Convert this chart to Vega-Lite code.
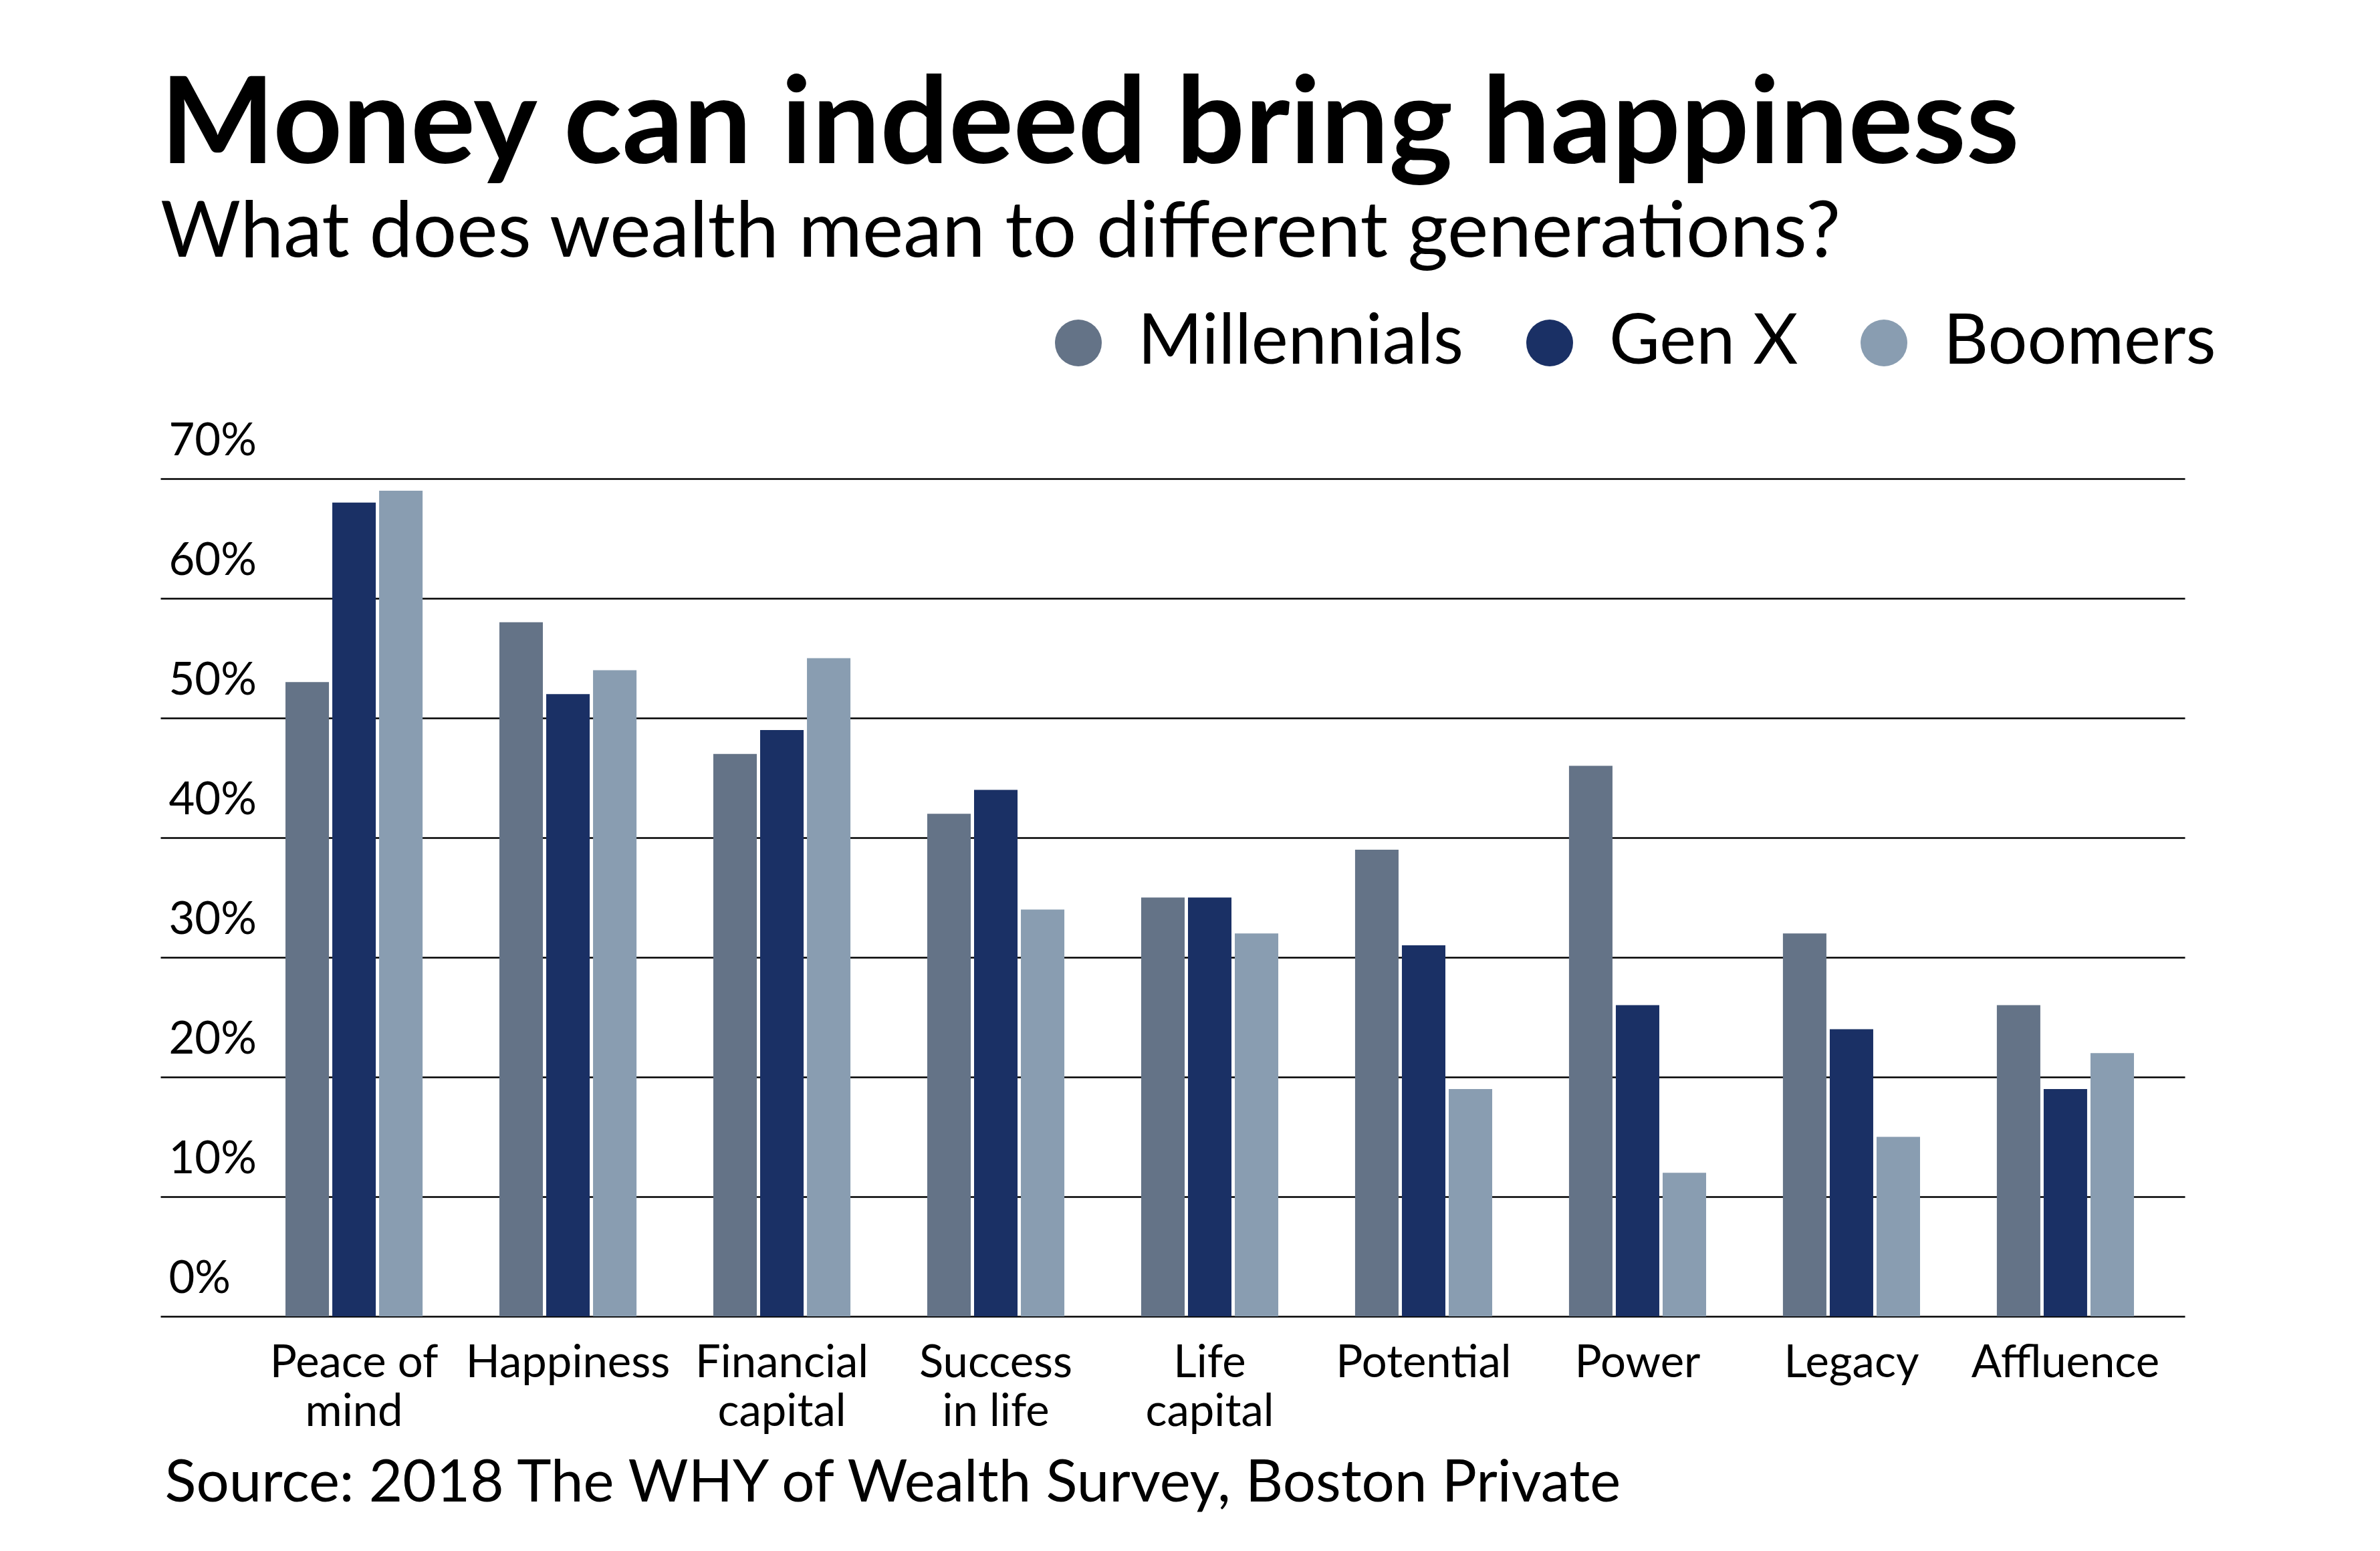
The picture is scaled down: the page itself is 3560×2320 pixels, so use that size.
{
  "$schema": "https://vega.github.io/schema/vega-lite/v6.json",
  "width": 3028,
  "height": 1253,
  "autosize": {"type": "none"},
  "padding": {"left": 240, "top": 716, "right": 292, "bottom": 351},
  "background": "white",
  "title": {
    "text": "Money can indeed bring happiness",
    "subtitle": "What does wealth mean to different generations?",
    "anchor": "start",
    "frame": "group",
    "font": "Lato",
    "fontSize": 181,
    "fontWeight": "bold",
    "color": "#000000",
    "subtitleFont": "Lato",
    "subtitleFontSize": 116,
    "subtitleColor": "#000000",
    "subtitlePadding": 10,
    "offset": 52
  },
  "data": {
    "values": [
      {"category": "Peace of mind", "generation": "Millennials", "value": 53},
      {"category": "Peace of mind", "generation": "Gen X", "value": 68},
      {"category": "Peace of mind", "generation": "Boomers", "value": 69},
      {"category": "Happiness", "generation": "Millennials", "value": 58},
      {"category": "Happiness", "generation": "Gen X", "value": 52},
      {"category": "Happiness", "generation": "Boomers", "value": 54},
      {"category": "Financial capital", "generation": "Millennials", "value": 47},
      {"category": "Financial capital", "generation": "Gen X", "value": 49},
      {"category": "Financial capital", "generation": "Boomers", "value": 55},
      {"category": "Success in life", "generation": "Millennials", "value": 42},
      {"category": "Success in life", "generation": "Gen X", "value": 44},
      {"category": "Success in life", "generation": "Boomers", "value": 34},
      {"category": "Life capital", "generation": "Millennials", "value": 35},
      {"category": "Life capital", "generation": "Gen X", "value": 35},
      {"category": "Life capital", "generation": "Boomers", "value": 32},
      {"category": "Potential", "generation": "Millennials", "value": 39},
      {"category": "Potential", "generation": "Gen X", "value": 31},
      {"category": "Potential", "generation": "Boomers", "value": 19},
      {"category": "Power", "generation": "Millennials", "value": 46},
      {"category": "Power", "generation": "Gen X", "value": 26},
      {"category": "Power", "generation": "Boomers", "value": 12},
      {"category": "Legacy", "generation": "Millennials", "value": 32},
      {"category": "Legacy", "generation": "Gen X", "value": 24},
      {"category": "Legacy", "generation": "Boomers", "value": 15},
      {"category": "Affluence", "generation": "Millennials", "value": 26},
      {"category": "Affluence", "generation": "Gen X", "value": 19},
      {"category": "Affluence", "generation": "Boomers", "value": 22}
    ]
  },
  "mark": {"type": "bar"},
  "encoding": {
    "x": {
      "field": "category",
      "type": "nominal",
      "sort": null,
      "scale": {"paddingInner": 0.359, "paddingOuter": 0.411, "align": 0.711},
      "axis": {
        "title": "Source: 2018 The WHY of Wealth Survey, Boston Private",
        "domain": false,
        "ticks": false,
        "tickSize": 0,
        "labelAngle": 0,
        "labelAlign": "center",
        "labelBaseline": "alphabetic",
        "labelPadding": 90,
        "labelLineHeight": 73,
        "labelFont": "Lato",
        "labelFontSize": 67,
        "labelColor": "#000000",
        "labelLimit": 0,
        "labelOverlap": false,
        "labelExpr": "datum.label == 'Peace of mind' ? ['Peace of', 'mind'] : datum.label == 'Financial capital' ? ['Financial', 'capital'] : datum.label == 'Success in life' ? ['Success', 'in life'] : datum.label == 'Life capital' ? ['Life', 'capital'] : datum.label",
        "titleFont": "Lato",
        "titleFontSize": 87,
        "titleFontWeight": "normal",
        "titleColor": "#000000",
        "titleAnchor": "start",
        "titleAlign": "left",
        "titleBaseline": "alphabetic",
        "titleX": 6,
        "titleY": 276
      }
    },
    "xOffset": {
      "field": "generation",
      "sort": ["Millennials", "Gen X", "Boomers"],
      "scale": {"paddingInner": 0.0714, "paddingOuter": 0}
    },
    "y": {
      "field": "value",
      "type": "quantitative",
      "scale": {"domain": [0, 70], "nice": false},
      "axis": {
        "title": null,
        "domain": false,
        "ticks": false,
        "tickSize": 0,
        "grid": true,
        "gridColor": "#000000",
        "gridWidth": 2.5,
        "values": [0, 10, 20, 30, 40, 50, 60, 70],
        "labelExpr": "datum.value + '%'",
        "labelAlign": "left",
        "labelBaseline": "alphabetic",
        "labelPadding": -12,
        "labelOffset": -36,
        "labelFlush": false,
        "labelOverlap": false,
        "labelFont": "Lato",
        "labelFontSize": 67,
        "labelColor": "#000000"
      }
    },
    "color": {
      "field": "generation",
      "type": "nominal",
      "sort": ["Millennials", "Gen X", "Boomers"],
      "scale": {
        "domain": ["Millennials", "Gen X", "Boomers"],
        "range": ["#647387", "#1a3065", "#899db1"]
      },
      "legend": {
        "title": null,
        "orient": "none",
        "legendX": 1321,
        "legendY": -255,
        "direction": "horizontal",
        "padding": 0,
        "symbolType": "circle",
        "symbolSize": 4900,
        "symbolStrokeWidth": 0,
        "symbolOpacity": 1,
        "labelFont": "Lato",
        "labelFontSize": 104,
        "labelColor": "#000000",
        "labelOffset": 37,
        "labelLimit": 0,
        "columnPadding": 76
      }
    }
  },
  "config": {"view": {"stroke": null}}
}
